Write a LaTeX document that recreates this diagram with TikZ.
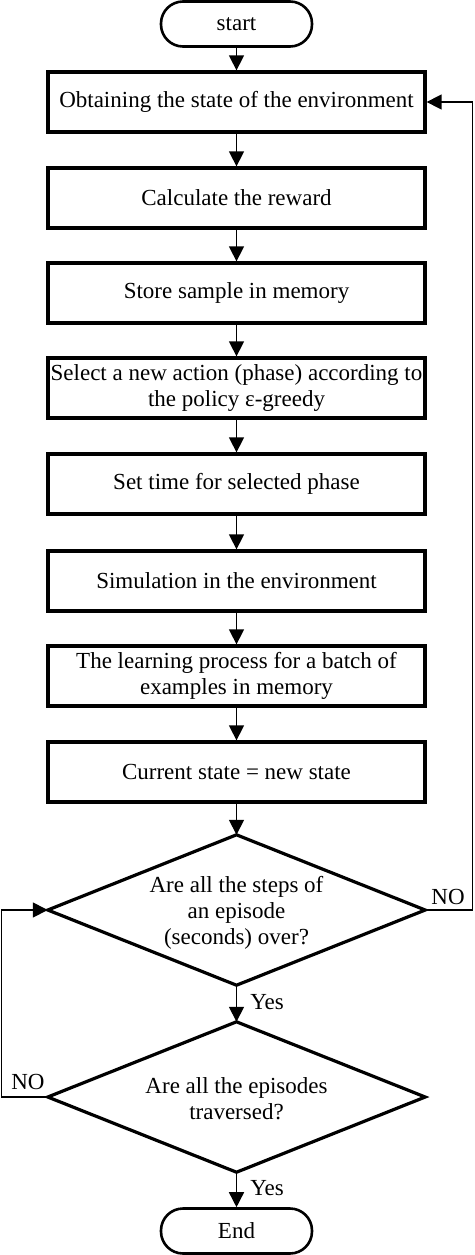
\documentclass[tikz,border=0pt]{standalone}
\usepackage{fontspec}
\setmainfont{Liberation Serif}
\usetikzlibrary{arrows.meta}
\begin{document}
\begin{tikzpicture}[x=1pt,y=-1pt,
  every node/.style={font=\fontsize{23}{26}\selectfont, text=black},
  procbox/.style={draw=black, line width=3.3pt, rectangle, minimum width=377pt, minimum height=60pt, align=center, inner sep=0pt},
  termbox/.style={draw=black, line width=2.6pt, rectangle, rounded corners=22pt, minimum width=151pt, minimum height=45pt, inner sep=0pt},
  decbox/.style={rectangle, minimum width=377pt, minimum height=150pt, inner sep=0pt, align=center},
  decline/.style={draw=black, line width=3.2pt, line join=miter},
  arrowtip/.style={-{Triangle[length=15pt,width=15pt]}},
  flow/.style={line width=1.5pt, arrowtip},
  loopline/.style={line width=1.5pt},
  lbl/.style={inner sep=0pt}
]
\useasboundingbox (0,0) rectangle (474,1255);
\fill[white] (0,0) rectangle (474,1255);
\node[termbox] (start) at (236.5,24) {start};
\node[procbox] (b1) at (236.5,102) {Obtaining the state of the environment};
\node[procbox] (b2) at (236.5,198) {Calculate the reward};
\node[procbox] (b3) at (236.5,293) {Store sample in memory};
\node[procbox] (b4) at (236.5,388) {Select a new action (phase) according to\\the policy ε-greedy};
\node[procbox] (b5) at (236.5,484) {Set time for selected phase};
\node[procbox] (b6) at (236.5,581) {Simulation in the environment};
\node[procbox] (b7) at (236.5,676) {The learning process for a batch of\\examples in memory};
\node[procbox] (b8) at (236.5,772) {Current state = new state};
\node[decbox] (d1) at (236.5,910) {};
\node[align=center] (t1) at (236.5,913) {Are all the steps of\\an episode\\(seconds) over?};
\node[decbox] (d2) at (236.5,1097) {};
\node[align=center] (t2) at (236.5,1099) {Are all the episodes\\traversed?};
\draw[decline] (d1.north) -- (d1.east) -- (d1.south) -- (d1.west) -- cycle;
\draw[decline] (d2.north) -- (d2.east) -- (d2.south) -- (d2.west) -- cycle;
\node[termbox] (end) at (236.5,1231) {End};

\draw[flow] (start) -- (b1);
\draw[flow] (b1) -- (b2);
\draw[flow] (b2) -- (b3);
\draw[flow] (b3) -- (b4);
\draw[flow] (b4) -- (b5);
\draw[flow] (b5) -- (b6);
\draw[flow] (b6) -- (b7);
\draw[flow] (b7) -- (b8);
\draw[flow] (b8) -- (d1.north);
\draw[flow] (d1.south) -- node[lbl, right=13pt, pos=0.45] (y1) {Yes} (d2.north);
\draw[flow] (d2.south) -- node[lbl, right=13pt, pos=0.45] (y2) {Yes} (end);

\coordinate (rr) at (472.5,910);
\coordinate (ll) at (1.5,1097);
\draw[loopline, arrowtip] (d1.east) -- (rr) |- (b1.east);
\draw[loopline, arrowtip] (d2.west) -- (ll) |- (d1.west);
\node[lbl] (no1) at (448,897) {NO};
\node[lbl] (no2) at (28,1082) {NO};
\end{tikzpicture}
\end{document}
